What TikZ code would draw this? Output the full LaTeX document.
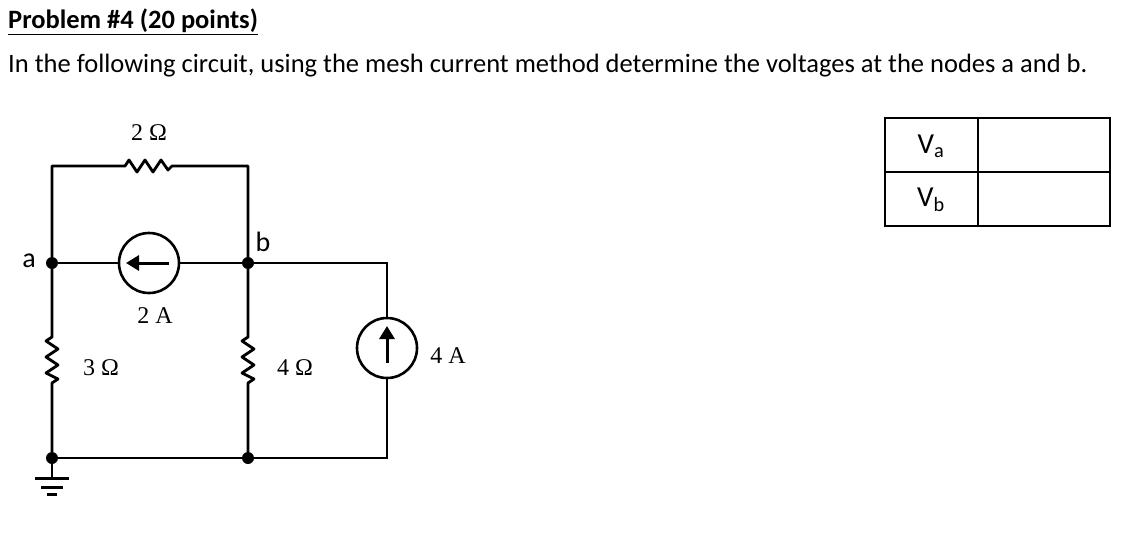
\documentclass[tikz,border=0pt]{standalone}
\usepackage{fontspec}
\setmainfont{Carlito}
\newfontfamily\ser{Liberation Serif}
\usetikzlibrary{arrows.meta}
\begin{document}
\begin{tikzpicture}[x=1pt,y=-1pt,
  wire/.style={line width=2.8pt},
  dot/.style={circle,fill,inner sep=0pt,minimum size=12pt},
  src/.style={circle,draw,line width=2.6pt,minimum size=60pt,inner sep=0pt},
  lab/.style={font=\ser\fontsize{24}{24}\selectfont},
  txt/.style={font=\fontsize{26.5}{30}\selectfont,anchor=west,inner sep=0pt}]
\useasboundingbox (0,0) rectangle (1125,546);
\node[txt,font=\bfseries\fontsize{26.5}{30}\selectfont] (title) at (8,22) {\underline{Problem \#4 (20 points)}};
\node[txt] (q) at (8,66) {In the following circuit, using the mesh current method determine the voltages at the nodes a and b.};
% table
\draw[line width=1.4pt] (885,118) rectangle (1110,226);
\draw[line width=1.4pt] (885,172) -- (1110,172);
\draw[line width=1.4pt] (978,118) -- (978,226);
\node[font=\fontsize{29}{29}\selectfont] (va) at (931,146) {V\textsubscript{a}};
\node[font=\fontsize{29}{29}\selectfont] (vb) at (931,200) {V\textsubscript{b}};
% nodes
\node[dot] (a) at (52,263) {};
\node[dot] (b) at (248,263) {};
\node[dot] (g) at (52,458) {};
\node[dot] (c) at (248,458) {};
\coordinate (tl) at (52,166); \coordinate (tr) at (248,166);
\coordinate (rt) at (387,263); \coordinate (rb) at (387,458);
\node[src] (s2) at (149,263) {};
\node[src] (s4) at (387,348) {};
\draw[-{Triangle[length=13pt,width=15pt]},line width=3pt] ([xshift=20pt]s2.center) -- ([xshift=-23pt]s2.center);
\draw[-{Triangle[length=13pt,width=15pt]},line width=3pt] ([yshift=-15pt]s4.center) -- ([yshift=22pt]s4.center);
% wires
\draw[wire] (a) -- (s2.west) (s2.east) -- (b) -- (rt) -- (s4.north) (s4.south) -- (rb) -- (c) -- (g);
\draw[wire,line join=round] (a) -- (tl) -- (125,166) -- (129,160) -- (137,172) -- (145,160) -- (153,172) -- (161,160) -- (168,170) -- (172,166) -- (tr) -- (b);
\draw[wire,line join=round] (a) -- (52,337) -- (46,341) -- (58,349) -- (46,357) -- (58,365) -- (46,373) -- (58,379) -- (52,383) -- (g);
\draw[wire,line join=round] (b) -- (248,337) -- (242,341) -- (254,349) -- (242,357) -- (254,365) -- (242,373) -- (254,379) -- (248,383) -- (c);
% ground
\draw[wire] (g) -- (52,478);
\draw[line width=3pt] (35,478) -- (69,478) (41,487) -- (63,487) (47,494) -- (57,494);
% labels
\node[lab] (l1) at (149,133) {2 Ω};
\node[lab] (l2) at (155,316) {2 A};
\node[lab] (l3) at (101,368) {3 Ω};
\node[lab] (l4) at (295,368) {4 Ω};
\node[lab] (l5) at (448,356) {4 A};
\node[font=\fontsize{28}{28}\selectfont] (la) at (29,261) {a};
\node[font=\fontsize{28}{28}\selectfont] (lb) at (263,242) {b};
\end{tikzpicture}
\end{document}
